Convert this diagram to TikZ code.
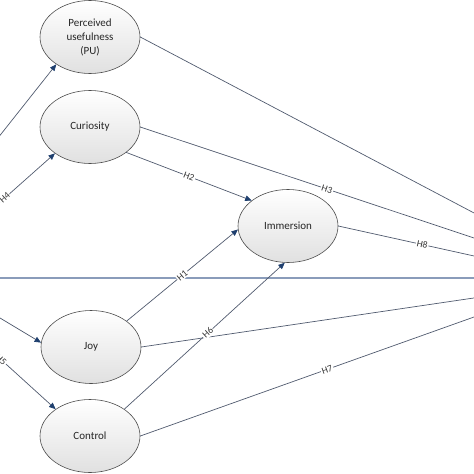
\documentclass[tikz,border=0pt]{standalone}
\usepackage{fontspec}
\setmainfont{Carlito}
\usetikzlibrary{shapes.geometric,arrows.meta}
\definecolor{linegray}{RGB}{80,90,110}
\definecolor{tipblue}{RGB}{31,63,110}
\definecolor{bandblue}{RGB}{138,156,186}
\begin{document}
\begin{tikzpicture}[x=1pt, y=-1pt, line join=round, line cap=round,
    >={Triangle[length=6.5pt,width=5.5pt,color=tipblue]},
    latent/.style={ellipse, draw=black!70, line width=0.6pt, top color=white, bottom color=black!12,
        minimum width=100pt, minimum height=73pt, inner sep=0pt, align=center,
        font=\fontsize{11}{14}\selectfont, text=black!85},
    link/.style={draw=linegray, line width=0.7pt},
    hyp/.style={sloped, fill=white, inner sep=1pt, font=\fontsize{9.5}{10}\selectfont, text=black!80}]
    \useasboundingbox (0,0) rectangle (474,474);
    \clip (0,0) rectangle (474,474);
    \coordinate (bandL) at (0,278);
    \coordinate (bandR) at (474,278);
    \draw[bandblue, line width=2.5pt, line cap=butt] (bandL)--(bandR);
    \node[latent] (pu) at (90,37) {Perceived\\usefulness\\(PU)};
    \node[latent] (cur) at (90,127) {Curiosity};
    \node[latent] (imm) at (288,226) {Immersion};
    \node[latent] (joy) at (91,347) {Joy};
    \node[latent] (ctrl) at (90,436) {Control};
    \coordinate (inPU) at (-10,148);
    \coordinate (inCur) at (-20,220);
    \coordinate (inJoy) at (-10,312);
    \coordinate (inCtrl) at (-20,340.5);
    \coordinate (outPU) at (490,221.4);
    \coordinate (outCur) at (490,243.3);
    \coordinate (outImm) at (490,259.5);
    \coordinate (outJoy) at (490,295.6);
    \coordinate (outCtrl) at (490,311.3);
    \draw[link,->] (inPU)--(pu.219);
    \draw[link,->] (inCur)--(cur.217) node[hyp,pos=0.33] {H4};
    \draw[link,->] (inJoy)--(joy.175);
    \draw[link,->] (inCtrl)--(ctrl.142) node[hyp,pos=0.28] {H5};
    \draw[link,->] (cur.-35)--(imm.145) node[hyp,pos=0.5] {H2};
    \draw[link,->] (joy.36)--(imm.184) node[hyp,pos=0.5] {H1};
    \draw[link,->] (pu.east)--(outPU);
    \draw[link,->] (cur.east)--(outCur) node[hyp,pos=0.534] {H3};
    \draw[link,->] (imm.east)--(outImm) node[hyp,pos=0.553] {H8};
    \draw[link,->] (joy.east)--(outJoy);
    \draw[link,->] (ctrl.38)--(imm.265) node[hyp,pos=0.52] {H6};
    \draw[link,->] (ctrl.east)--(outCtrl) node[hyp,pos=0.534] {H7};
\end{tikzpicture}
\end{document}
